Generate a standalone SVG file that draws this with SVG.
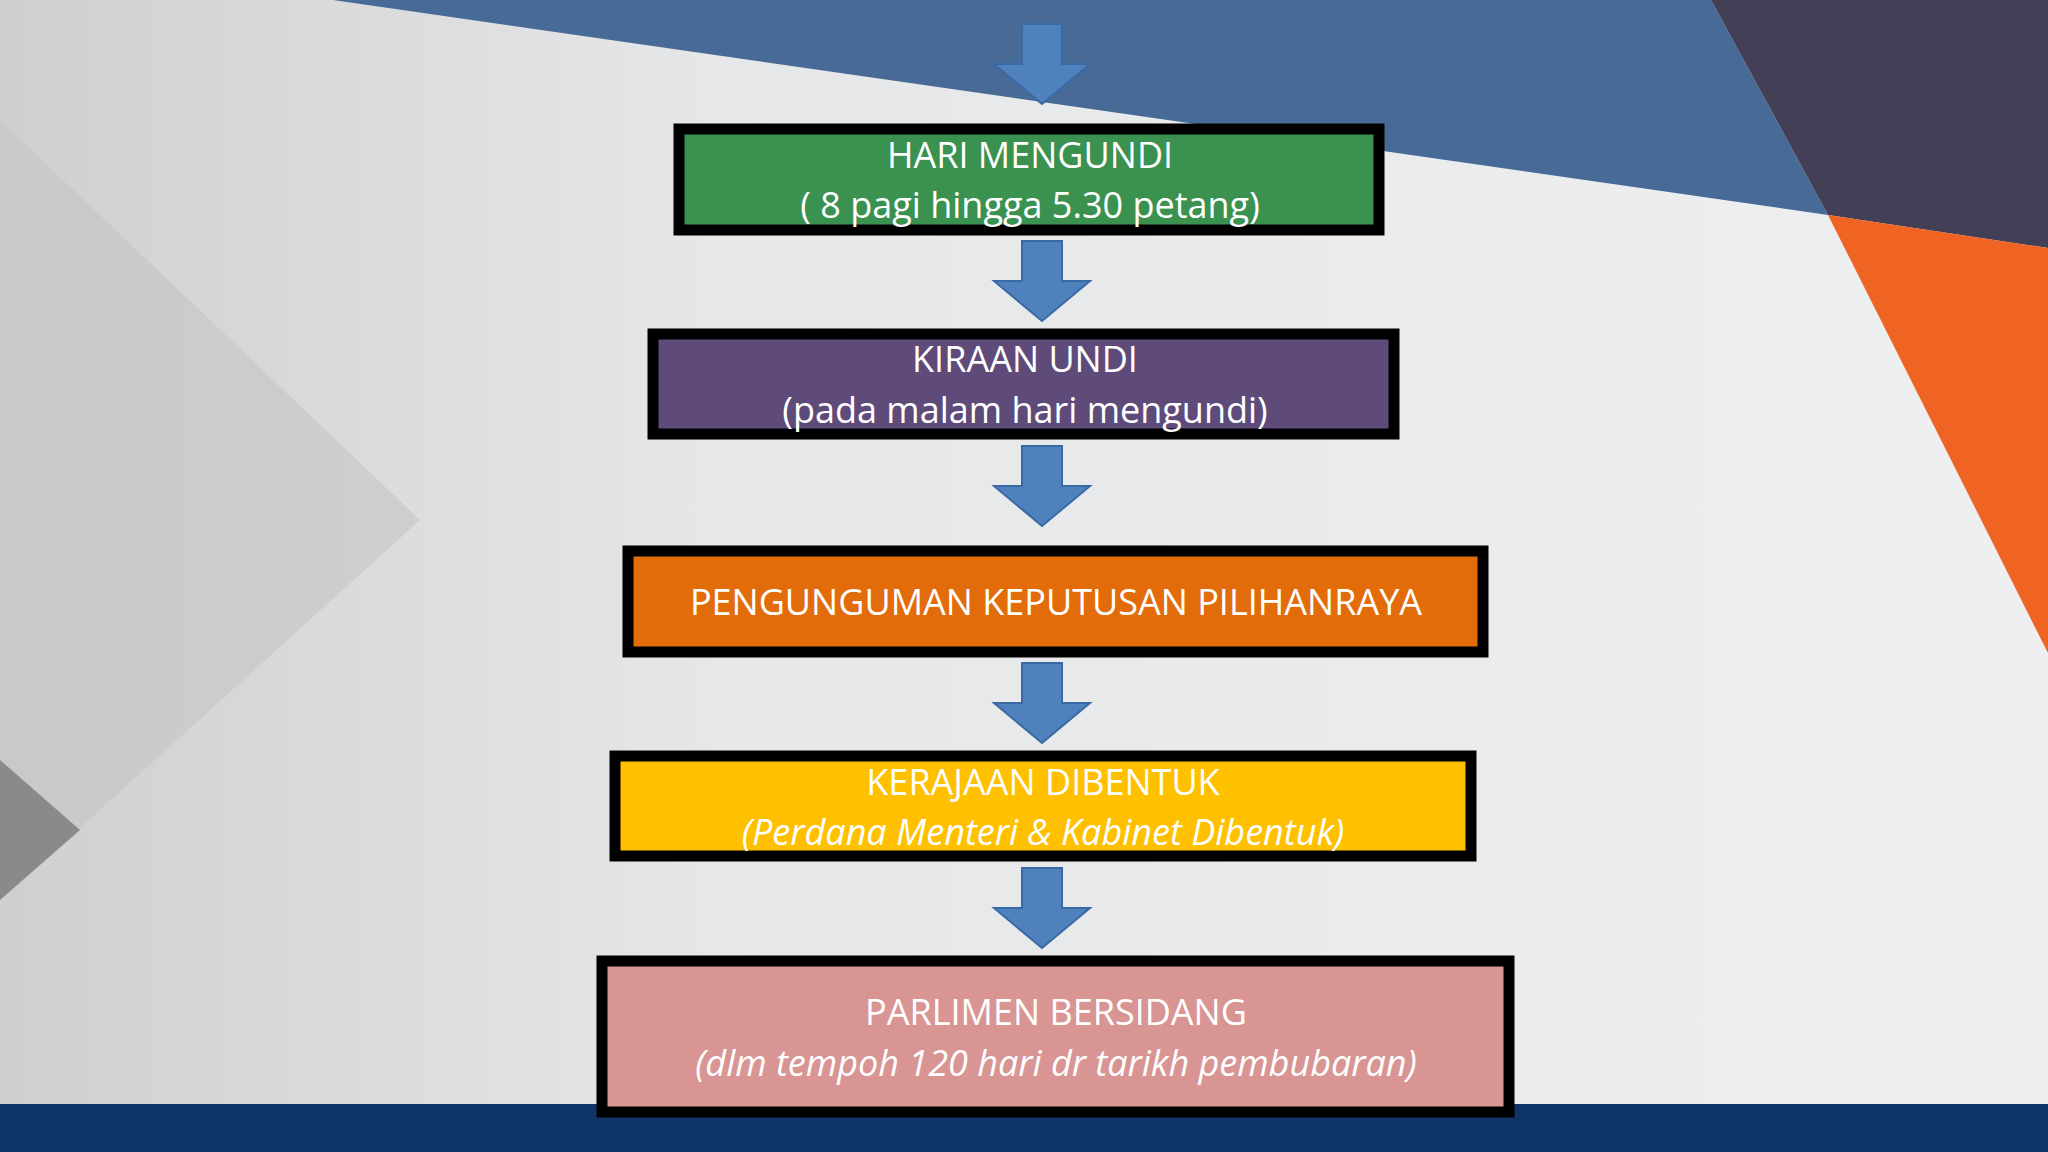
<svg xmlns="http://www.w3.org/2000/svg" width="2048" height="1152" viewBox="0 0 2048 1152">
<defs>
<style>
.box{stroke:#000;stroke-width:11}
.t{font-family:"Open Sans","Liberation Sans",sans-serif;font-size:36px;fill:#fff;text-anchor:middle}
.i{font-style:italic}
.arr{fill:#4f81bd;stroke:#3a6aa5;stroke-width:2}
</style>
<linearGradient id="bg" x1="0" y1="0" x2="1" y2="0">
<stop offset="0" stop-color="#cfcfcf"/><stop offset="0.35" stop-color="#e6e7e9"/><stop offset="1" stop-color="#eeeff1"/>
</linearGradient>
<path id="a" class="arr" d="M-20,0 H20 V40 H48 L0,80 L-48,40 H-20 Z"/>
</defs>
<rect width="2048" height="1152" fill="url(#bg)"/>
<polygon points="0,120 420,520 0,900" fill="#c4c4c4" opacity="0.6"/>
<polygon points="0,760 80,830 0,900" fill="#8a8a8a"/>
<polygon points="333,0 1711,0 1828,215" fill="#476b96"/>
<polygon points="1711,0 2048,0 2048,248 1828,215" fill="#433f57"/>
<polygon points="1828,215 2048,248 2048,653" fill="#f06423"/>
<rect x="0" y="1104" width="2048" height="48" fill="#0f3468"/>
<g id="connectors">
<use href="#a" transform="translate(1042,24)"/>
<use href="#a" transform="translate(1042,241)"/>
<use href="#a" transform="translate(1042,446)"/>
<use href="#a" transform="translate(1042,663)"/>
<use href="#a" transform="translate(1042,868)"/>
</g>
<g id="n1"><rect class="box" x="679" y="129" width="700" height="101" fill="#3a9150"/>
<text class="t" x="1030" y="168">HARI MENGUNDI</text><text class="t" x="1030" y="218">( 8 pagi hingga 5.30 petang)</text></g>
<g id="n2"><rect class="box" x="653" y="334" width="741" height="100" fill="#5f4b7a"/>
<text class="t" x="1025" y="372">KIRAAN UNDI</text><text class="t" x="1025" y="423">(pada malam hari mengundi)</text></g>
<g id="n3"><rect class="box" x="628" y="551" width="855" height="101" fill="#e36c0a"/>
<text class="t" x="1056" y="615">PENGUNGUMAN KEPUTUSAN PILIHANRAYA</text></g>
<g id="n4"><rect class="box" x="615" y="756" width="856" height="100" fill="#ffc000"/>
<text class="t" x="1043" y="795">KERAJAAN DIBENTUK</text><text class="t i" x="1043" y="845">(Perdana Menteri &amp; Kabinet Dibentuk)</text></g>
<g id="n5"><rect class="box" x="602" y="961" width="907" height="151" fill="#d99594"/>
<text class="t" x="1056" y="1025">PARLIMEN BERSIDANG</text><text class="t i" x="1056" y="1076">(dlm tempoh  120 hari dr tarikh pembubaran)</text></g>
</svg>
